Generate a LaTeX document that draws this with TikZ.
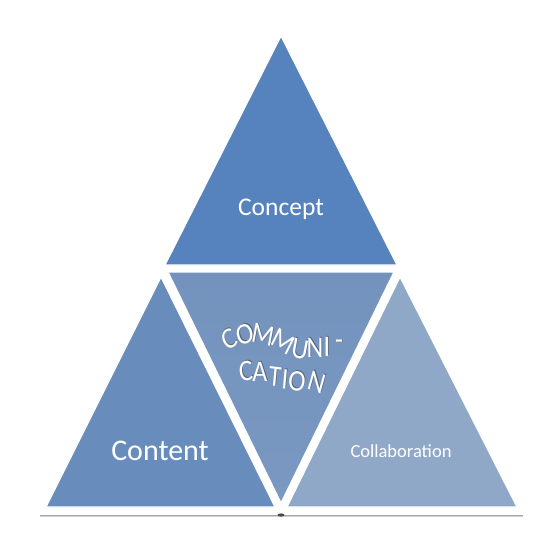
\documentclass[tikz,border=0pt]{standalone}
\usepackage{fontspec}
\setmainfont{Carlito}
\definecolor{ctop}{HTML}{5683BD}
\definecolor{cleft}{HTML}{688CBB}
\definecolor{cmid}{HTML}{7A98C0}
\definecolor{cmidtop}{HTML}{7393BE}
\definecolor{cright}{HTML}{8FA8C8}
\definecolor{cout}{HTML}{56657A}
\tikzset{
  tri/.style={draw=white, line width=1.2pt, line join=miter},
  lbl/.style={text=white, inner sep=0pt, anchor=base},
  wl/.style={text=white, inner sep=0pt, font=\fontsize{26}{26}\selectfont, yscale=1.15},
  wls/.style={text=cout, inner sep=0pt, font=\fontsize{26}{26}\selectfont, yscale=1.15},
}
\newcommand{\wletter}[5]{%
  \node[wls, rotate=#4] at ([shift={(0.7pt,0.7pt)}]#2,#3) {#5};%
  \node[wl, rotate=#4] (#1) at (#2,#3) {#5};}
\begin{document}
\begin{tikzpicture}[x=1pt,y=-1pt]
\useasboundingbox (0,0) rectangle (556,548);
% shadow line
\draw[gray!35, line width=2pt] (40,516) -- (523,516);
\draw[gray!70, line width=0.9pt] (40,515) -- (523,515);
\fill[black!70] (281,515) ellipse (3.5pt and 1.6pt);
% triangles
\fill[ctop, tri] (281,36) -- (397,265) -- (165,265) -- cycle;
\fill[cleft, tri] (161,277) -- (275,507) -- (46,507) -- cycle;
\fill[cright, tri] (400,277) -- (517,507) -- (287,507) -- cycle;
\shade[top color=cmidtop, bottom color=cmid, tri] (168,272) -- (394,272) -- (281,503) -- cycle;
% labels
\node[lbl, font=\fontsize{25.5}{26}\selectfont] (concept) at (281,215) {Concept};
\node[lbl, font=\fontsize{30}{30}\selectfont] (content) at (160,460) {Content};
\node[lbl, font=\fontsize{18.5}{19}\selectfont] (collab) at (401,457) {Collaboration};
% wavy word
\wletter{c1}{229}{339}{30}{C}
\wletter{o1}{245}{334}{18}{O}
\wletter{m1}{263}{335}{-12}{M}
\wletter{m2}{283}{342}{-30}{M}
\wletter{u1}{300}{349}{-12}{U}
\wletter{n1}{315}{348}{0}{N}
\wletter{i1}{327}{347}{0}{I}
\wletter{h1}{339}{345}{0}{-}
\wletter{c2}{246}{371}{6}{C}
\wletter{a2}{260}{372}{0}{A}
\wletter{t2}{275}{377}{-6}{T}
\wletter{i2}{285}{379}{-6}{I}
\wletter{o2}{297}{381}{-8}{O}
\wletter{n2}{317}{382}{-18}{N}
\end{tikzpicture}
\end{document}
